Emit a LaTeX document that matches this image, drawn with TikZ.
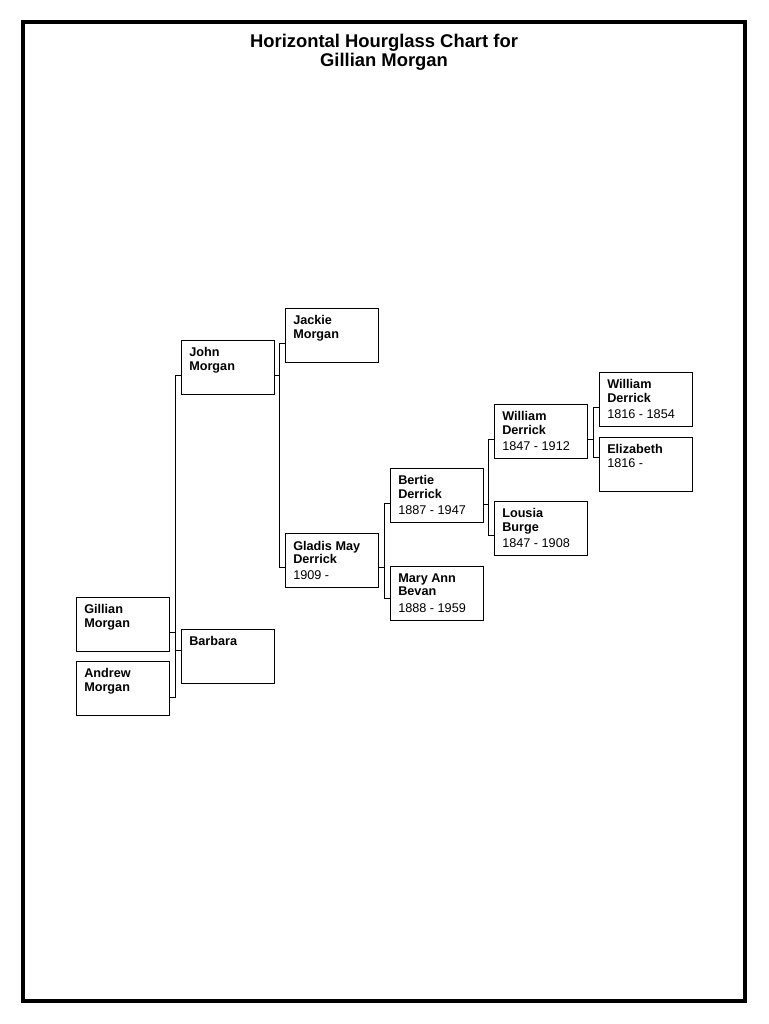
\documentclass[tikz,border=0pt]{standalone}
\usepackage{fontspec}
\setmainfont{Liberation Sans}
\usetikzlibrary{calc}
\begin{document}
\begin{tikzpicture}[x=0.75pt,y=-0.75pt,
  pbox/.style={draw,line width=0.9pt,anchor=north west,minimum width=69.75pt,minimum height=40.5pt,inner sep=0pt},
  nm/.style={anchor=base west,inner sep=0pt,font=\bfseries\fontsize{9.5pt}{10pt}\selectfont},
  dt/.style={anchor=base west,inner sep=0pt,font=\fontsize{9.5pt}{10pt}\selectfont},
  ttl/.style={anchor=base,inner sep=0pt,font=\bfseries\fontsize{13.8pt}{15pt}\selectfont},
  conn/.style={line width=0.75pt}]
\useasboundingbox (0,0) rectangle (768,1024);
\draw[line width=2.3pt] (23,22) rectangle (745,1001);
\node[ttl] (t1) at (384,48) {Horizontal Hourglass Chart for};
\node[ttl] (t2) at (384,67) {Gillian Morgan};

% boxes
\node[pbox] (gillian) at (76,597) {};
\node[nm] (gillian-a) at ($(gillian.north west)+(8,16)$) {Gillian};
\node[nm] (gillian-b) at ($(gillian.north west)+(8,30)$) {Morgan};

\node[pbox] (andrew) at (76,661) {};
\node[nm] (andrew-a) at ($(andrew.north west)+(8,16)$) {Andrew};
\node[nm] (andrew-b) at ($(andrew.north west)+(8,30)$) {Morgan};

\node[pbox] (john) at (181,340) {};
\node[nm] (john-a) at ($(john.north west)+(8,16)$) {John};
\node[nm] (john-b) at ($(john.north west)+(8,30)$) {Morgan};

\node[pbox] (barbara) at (181,629) {};
\node[nm] (barbara-a) at ($(barbara.north west)+(8,16)$) {Barbara};

\node[pbox] (jackie) at (285,308) {};
\node[nm] (jackie-a) at ($(jackie.north west)+(8,16)$) {Jackie};
\node[nm] (jackie-b) at ($(jackie.north west)+(8,30)$) {Morgan};

\node[pbox] (gladis) at (285,533) {};
\node[nm] (gladis-a) at ($(gladis.north west)+(8,17)$) {Gladis May};
\node[nm] (gladis-b) at ($(gladis.north west)+(8,30)$) {Derrick};
\node[dt] (gladis-c) at ($(gladis.north west)+(8,46)$) {1909 -};

\node[pbox] (bertie) at (390,468) {};
\node[nm] (bertie-a) at ($(bertie.north west)+(8,16)$) {Bertie};
\node[nm] (bertie-b) at ($(bertie.north west)+(8,30)$) {Derrick};
\node[dt] (bertie-c) at ($(bertie.north west)+(8,46)$) {1887 - 1947};

\node[pbox] (maryann) at (390,566) {};
\node[nm] (maryann-a) at ($(maryann.north west)+(8,16)$) {Mary Ann};
\node[nm] (maryann-b) at ($(maryann.north west)+(8,29)$) {Bevan};
\node[dt] (maryann-c) at ($(maryann.north west)+(8,46)$) {1888 - 1959};

\node[pbox] (william) at (494,404) {};
\node[nm] (william-a) at ($(william.north west)+(8,16)$) {William};
\node[nm] (william-b) at ($(william.north west)+(8,30)$) {Derrick};
\node[dt] (william-c) at ($(william.north west)+(8,46)$) {1847 - 1912};

\node[pbox] (lousia) at (494,501) {};
\node[nm] (lousia-a) at ($(lousia.north west)+(8,16)$) {Lousia};
\node[nm] (lousia-b) at ($(lousia.north west)+(8,30)$) {Burge};
\node[dt] (lousia-c) at ($(lousia.north west)+(8,46)$) {1847 - 1908};

\node[pbox] (williams) at (599,372) {};
\node[nm] (williams-a) at ($(williams.north west)+(8,16)$) {William};
\node[nm] (williams-b) at ($(williams.north west)+(8,30)$) {Derrick};
\node[dt] (williams-c) at ($(williams.north west)+(8,46)$) {1816 - 1854};

\node[pbox] (elizabeth) at (599,437) {};
\node[nm] (elizabeth-a) at ($(elizabeth.north west)+(8,16)$) {Elizabeth};
\node[dt] (elizabeth-c) at ($(elizabeth.north west)+(8,30)$) {1816 -};

% connection points
\coordinate (gillian-out) at ($(gillian.north east)+(0,35)$);
\coordinate (andrew-out) at ($(andrew.north east)+(0,36)$);
\coordinate (john-in) at ($(john.north west)+(0,35)$);
\coordinate (john-out) at ($(john.north east)+(0,35)$);
\coordinate (barbara-in) at ($(barbara.north west)+(0,21)$);
\coordinate (jackie-in) at ($(jackie.north west)+(0,35)$);
\coordinate (gladis-in) at ($(gladis.north west)+(0,34)$);
\coordinate (gladis-out) at ($(gladis.north east)+(0,34)$);
\coordinate (bertie-in) at ($(bertie.north west)+(0,35)$);
\coordinate (bertie-out) at ($(bertie.north east)+(0,36)$);
\coordinate (maryann-in) at ($(maryann.north west)+(0,32)$);
\coordinate (william-in) at ($(william.north west)+(0,35)$);
\coordinate (william-out) at ($(william.north east)+(0,35)$);
\coordinate (lousia-in) at ($(lousia.north west)+(0,34)$);
\coordinate (williams-in) at ($(williams.north west)+(0,35)$);
\coordinate (elizabeth-in) at ($(elizabeth.north west)+(0,20)$);

\coordinate (bus1) at (175,0);
\coordinate (bus2) at (279,0);
\coordinate (bus3) at (384,0);
\coordinate (bus4) at (488,0);
\coordinate (bus5) at (593,0);

\draw[conn] (gillian-out) -- (gillian-out -| bus1);
\draw[conn] (andrew-out) -- (andrew-out -| bus1) -- (john-in -| bus1) -- (john-in);
\draw[conn] (barbara-in -| bus1) -- (barbara-in);

\draw[conn] (john-out) -- (john-out -| bus2);
\draw[conn] (jackie-in) -- (jackie-in -| bus2) -- (gladis-in -| bus2) -- (gladis-in);

\draw[conn] (gladis-out) -- (gladis-out -| bus3);
\draw[conn] (bertie-in) -- (bertie-in -| bus3) -- (maryann-in -| bus3) -- (maryann-in);

\draw[conn] (bertie-out) -- (bertie-out -| bus4);
\draw[conn] (william-in) -- (william-in -| bus4) -- (lousia-in -| bus4) -- (lousia-in);

\draw[conn] (william-out) -- (william-out -| bus5);
\draw[conn] (williams-in) -- (williams-in -| bus5) -- (elizabeth-in -| bus5) -- (elizabeth-in);
\end{tikzpicture}
\end{document}
